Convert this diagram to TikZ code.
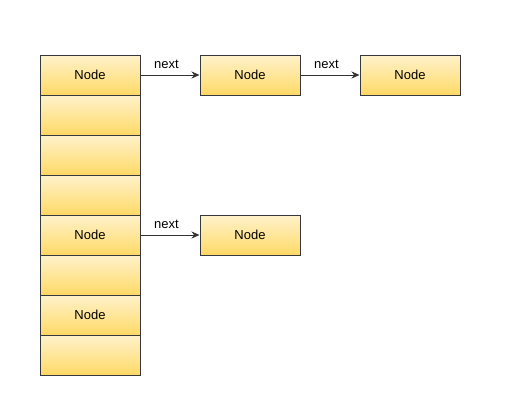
\documentclass[tikz,border=0pt]{standalone}
\usepackage{fontspec}
\setmainfont{Liberation Sans}
\usetikzlibrary{arrows.meta}
\definecolor{celltop}{HTML}{FFF2CC}
\definecolor{cellbot}{HTML}{FFD966}
\definecolor{cellline}{HTML}{36393D}
\definecolor{linkline}{HTML}{333333}

\begin{document}
\begin{tikzpicture}[x=1pt, y=-1pt, font=\fontsize{13}{15}\selectfont,
	cell/.style={draw=cellline, line width=1pt, top color=celltop, bottom color=cellbot, minimum width=100pt, minimum height=40pt, inner sep=0pt},
	link/.style={draw=linkline, line width=1pt, -{Stealth[length=8pt, width=7pt]}},
	linklabel/.style={above=2.5pt, pos=0.44, inner sep=3.3pt}]
						\fill[white] (0,0) rectangle (515,415);
						\useasboundingbox (0,0) rectangle (515,415);
						
						% bucket array
						\node[cell] (b1) at (90,75) {Node};
						\node[cell] (b2) at (90,115) {};
						\node[cell] (b3) at (90,155) {};
						\node[cell] (b4) at (90,195) {};
						\node[cell] (b5) at (90,235) {Node};
						\node[cell] (b6) at (90,275) {};
						\node[cell] (b7) at (90,315) {Node};
						\node[cell] (b8) at (90,355) {};
						
						% chained nodes
						\node[cell] (n1) at (250,75) {Node};
						\node[cell] (n2) at (410,75) {Node};
						\node[cell] (n3) at (250,235) {Node};
						
						\draw[link] (b1) -- node[linklabel] {next} (n1);
						\draw[link] (n1) -- node[linklabel] {next} (n2);
						\draw[link] (b5) -- node[linklabel] {next} (n3);
					\end{tikzpicture}
\end{document}
